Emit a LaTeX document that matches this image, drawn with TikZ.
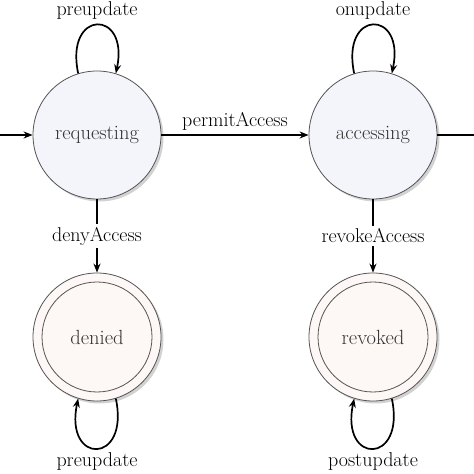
\documentclass[tikz,border=0pt]{standalone}
\usetikzlibrary{arrows.meta,shadows}
\definecolor{reqfill}{HTML}{F4F4FB}
\definecolor{finfill}{HTML}{FDF7F5}
\definecolor{ringcol}{HTML}{555555}
\definecolor{txtcol}{HTML}{333333}
\tikzset{
  statebox/.style={circle, draw=ringcol, line width=0.8pt, minimum size=128pt, inner sep=0pt,
    text=txtcol, font=\fontsize{20.5}{22}\selectfont,
    drop shadow={opacity=0.35, shadow xshift=2.5pt, shadow yshift=-2.5pt}},
  livebox/.style={statebox, fill=reqfill},
  finalbox/.style={statebox, fill=finfill},
  ring/.style={draw=ringcol, line width=0.8pt},
  trans/.style={line width=1.7pt, -{Stealth[length=9pt,width=7pt]}},
  plain/.style={line width=1.7pt},
  lbl/.style={font=\fontsize{20}{22}\selectfont, text=black, inner sep=1pt},
  midlbl/.style={lbl, fill=white, inner sep=3pt}
}
\begin{document}
\begin{tikzpicture}[x=1pt,y=1pt]
\useasboundingbox (0,0) rectangle (474,474);
\fill[white] (0,0) rectangle (474,474);

\node[livebox] (req) at (97,339) {requesting};
\node[livebox] (acc) at (373,339) {accessing};
\node[finalbox] (den) at (97,137) {denied};
\node[finalbox] (rev) at (373,137) {revoked};
\draw[ring] (den.center) circle[radius=55pt];
\draw[ring] (rev.center) circle[radius=55pt];

\coordinate (start) at (0,339);
\coordinate (exit) at (474,339);

\draw[trans] (start) -- (req.west);
\draw[trans] (req.east) -- node[lbl, above=3pt] (lpermit) {permitAccess} (acc.west);
\draw[plain] (acc.east) -- (exit);

\draw[trans] (req.south) -- node[midlbl] (ldeny) {denyAccess} (den.north);
\draw[trans] (acc.south) -- node[midlbl] (lrevoke) {revokeAccess} (rev.north);

\draw[trans] (req.107) .. controls +(102:66) and +(78:66) .. (req.73);
\draw[trans] (acc.107) .. controls +(102:66) and +(78:66) .. (acc.73);
\draw[trans] (den.-73) .. controls +(-78:68) and +(-102:68) .. (den.-107);
\draw[trans] (rev.-73) .. controls +(-78:68) and +(-102:68) .. (rev.-107);

\node[lbl] (lpre1) at (97,463) {preupdate};
\node[lbl] (lon) at (373,463) {onupdate};
\node[lbl] (lpre2) at (97,12) {preupdate};
\node[lbl] (lpost) at (373,12) {postupdate};
\end{tikzpicture}
\end{document}
